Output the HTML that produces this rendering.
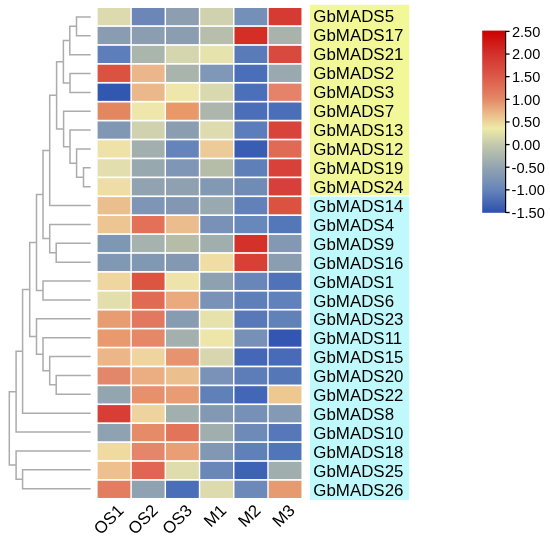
<!DOCTYPE html><html><head><meta charset="utf-8"><style>html,body{margin:0;padding:0;background:#fff;width:550px;height:539px;overflow:hidden;}svg{display:block;}text{font-family:"Liberation Sans",sans-serif;}</style></head><body>
<svg width="550" height="539" viewBox="0 0 550 539">
<rect width="550" height="539" fill="#fff"/>
<g shape-rendering="auto">
<rect x="97.60" y="8.00" width="32.77" height="17.21" fill="#DCDAAE"/>
<rect x="131.82" y="8.00" width="32.77" height="17.21" fill="#6C87B7"/>
<rect x="166.04" y="8.00" width="32.77" height="17.21" fill="#8C9EB0"/>
<rect x="200.26" y="8.00" width="32.77" height="17.21" fill="#CFD1AF"/>
<rect x="234.48" y="8.00" width="32.77" height="17.21" fill="#7490B8"/>
<rect x="268.70" y="8.00" width="32.77" height="17.21" fill="#D53B33"/>
<rect x="97.60" y="26.91" width="32.77" height="17.21" fill="#899CB1"/>
<rect x="131.82" y="26.91" width="32.77" height="17.21" fill="#8A9DB1"/>
<rect x="166.04" y="26.91" width="32.77" height="17.21" fill="#8B9DB0"/>
<rect x="200.26" y="26.91" width="32.77" height="17.21" fill="#B7BEAC"/>
<rect x="234.48" y="26.91" width="32.77" height="17.21" fill="#D42E26"/>
<rect x="268.70" y="26.91" width="32.77" height="17.21" fill="#A9B3AC"/>
<rect x="97.60" y="45.82" width="32.77" height="17.21" fill="#5D7DBB"/>
<rect x="131.82" y="45.82" width="32.77" height="17.21" fill="#AAB5AC"/>
<rect x="166.04" y="45.82" width="32.77" height="17.21" fill="#D6D6AE"/>
<rect x="200.26" y="45.82" width="32.77" height="17.21" fill="#E6E3AE"/>
<rect x="234.48" y="45.82" width="32.77" height="17.21" fill="#5A7AB8"/>
<rect x="268.70" y="45.82" width="32.77" height="17.21" fill="#D94A3E"/>
<rect x="97.60" y="64.73" width="32.77" height="17.21" fill="#DA5340"/>
<rect x="131.82" y="64.73" width="32.77" height="17.21" fill="#EAB68A"/>
<rect x="166.04" y="64.73" width="32.77" height="17.21" fill="#A9B5AC"/>
<rect x="200.26" y="64.73" width="32.77" height="17.21" fill="#7F98B8"/>
<rect x="234.48" y="64.73" width="32.77" height="17.21" fill="#4A6EB8"/>
<rect x="268.70" y="64.73" width="32.77" height="17.21" fill="#9AA8AF"/>
<rect x="97.60" y="83.64" width="32.77" height="17.21" fill="#3157B1"/>
<rect x="131.82" y="83.64" width="32.77" height="17.21" fill="#EAB88A"/>
<rect x="166.04" y="83.64" width="32.77" height="17.21" fill="#EEE6AA"/>
<rect x="200.26" y="83.64" width="32.77" height="17.21" fill="#D9D9AF"/>
<rect x="234.48" y="83.64" width="32.77" height="17.21" fill="#4B6FB8"/>
<rect x="268.70" y="83.64" width="32.77" height="17.21" fill="#E4826A"/>
<rect x="97.60" y="102.55" width="32.77" height="17.21" fill="#E2875F"/>
<rect x="131.82" y="102.55" width="32.77" height="17.21" fill="#EEE6AA"/>
<rect x="166.04" y="102.55" width="32.77" height="17.21" fill="#E99868"/>
<rect x="200.26" y="102.55" width="32.77" height="17.21" fill="#ACB6AC"/>
<rect x="234.48" y="102.55" width="32.77" height="17.21" fill="#4A6EB8"/>
<rect x="268.70" y="102.55" width="32.77" height="17.21" fill="#4A6EB8"/>
<rect x="97.60" y="121.46" width="32.77" height="17.21" fill="#8198B4"/>
<rect x="131.82" y="121.46" width="32.77" height="17.21" fill="#CFD1AF"/>
<rect x="166.04" y="121.46" width="32.77" height="17.21" fill="#8A9DB1"/>
<rect x="200.26" y="121.46" width="32.77" height="17.21" fill="#DEDCAE"/>
<rect x="234.48" y="121.46" width="32.77" height="17.21" fill="#5C7DBB"/>
<rect x="268.70" y="121.46" width="32.77" height="17.21" fill="#D8443A"/>
<rect x="97.60" y="140.37" width="32.77" height="17.21" fill="#EFE2A8"/>
<rect x="131.82" y="140.37" width="32.77" height="17.21" fill="#A2AFAE"/>
<rect x="166.04" y="140.37" width="32.77" height="17.21" fill="#6584BB"/>
<rect x="200.26" y="140.37" width="32.77" height="17.21" fill="#EDCB98"/>
<rect x="234.48" y="140.37" width="32.77" height="17.21" fill="#3A5DB4"/>
<rect x="268.70" y="140.37" width="32.77" height="17.21" fill="#E06A55"/>
<rect x="97.60" y="159.28" width="32.77" height="17.21" fill="#E3DEAD"/>
<rect x="131.82" y="159.28" width="32.77" height="17.21" fill="#97A8AF"/>
<rect x="166.04" y="159.28" width="32.77" height="17.21" fill="#7F96B6"/>
<rect x="200.26" y="159.28" width="32.77" height="17.21" fill="#B5BDA9"/>
<rect x="234.48" y="159.28" width="32.77" height="17.21" fill="#5F7FB8"/>
<rect x="268.70" y="159.28" width="32.77" height="17.21" fill="#D8403A"/>
<rect x="97.60" y="178.19" width="32.77" height="17.21" fill="#EEDDA5"/>
<rect x="131.82" y="178.19" width="32.77" height="17.21" fill="#91A3B0"/>
<rect x="166.04" y="178.19" width="32.77" height="17.21" fill="#8FA1B0"/>
<rect x="200.26" y="178.19" width="32.77" height="17.21" fill="#8299B4"/>
<rect x="234.48" y="178.19" width="32.77" height="17.21" fill="#6F8BB6"/>
<rect x="268.70" y="178.19" width="32.77" height="17.21" fill="#D7403A"/>
<rect x="97.60" y="197.10" width="32.77" height="17.21" fill="#EBBE8E"/>
<rect x="131.82" y="197.10" width="32.77" height="17.21" fill="#7E95B5"/>
<rect x="166.04" y="197.10" width="32.77" height="17.21" fill="#8397B3"/>
<rect x="200.26" y="197.10" width="32.77" height="17.21" fill="#99A9B0"/>
<rect x="234.48" y="197.10" width="32.77" height="17.21" fill="#6281B8"/>
<rect x="268.70" y="197.10" width="32.77" height="17.21" fill="#DC5240"/>
<rect x="97.60" y="216.01" width="32.77" height="17.21" fill="#EDC593"/>
<rect x="131.82" y="216.01" width="32.77" height="17.21" fill="#E27158"/>
<rect x="166.04" y="216.01" width="32.77" height="17.21" fill="#EBBC8D"/>
<rect x="200.26" y="216.01" width="32.77" height="17.21" fill="#7991B7"/>
<rect x="234.48" y="216.01" width="32.77" height="17.21" fill="#6887BA"/>
<rect x="268.70" y="216.01" width="32.77" height="17.21" fill="#5377B9"/>
<rect x="97.60" y="234.92" width="32.77" height="17.21" fill="#7E97B3"/>
<rect x="131.82" y="234.92" width="32.77" height="17.21" fill="#A5B2AD"/>
<rect x="166.04" y="234.92" width="32.77" height="17.21" fill="#B5BDA9"/>
<rect x="200.26" y="234.92" width="32.77" height="17.21" fill="#A1AEAE"/>
<rect x="234.48" y="234.92" width="32.77" height="17.21" fill="#D5302A"/>
<rect x="268.70" y="234.92" width="32.77" height="17.21" fill="#8399B3"/>
<rect x="97.60" y="253.83" width="32.77" height="17.21" fill="#8098B3"/>
<rect x="131.82" y="253.83" width="32.77" height="17.21" fill="#8098B3"/>
<rect x="166.04" y="253.83" width="32.77" height="17.21" fill="#8398B3"/>
<rect x="200.26" y="253.83" width="32.77" height="17.21" fill="#EFDDA4"/>
<rect x="234.48" y="253.83" width="32.77" height="17.21" fill="#D84036"/>
<rect x="268.70" y="253.83" width="32.77" height="17.21" fill="#8B9DB1"/>
<rect x="97.60" y="272.74" width="32.77" height="17.21" fill="#EFD69E"/>
<rect x="131.82" y="272.74" width="32.77" height="17.21" fill="#DC5540"/>
<rect x="166.04" y="272.74" width="32.77" height="17.21" fill="#EEE4AA"/>
<rect x="200.26" y="272.74" width="32.77" height="17.21" fill="#8EA1B0"/>
<rect x="234.48" y="272.74" width="32.77" height="17.21" fill="#6886BA"/>
<rect x="268.70" y="272.74" width="32.77" height="17.21" fill="#5072B8"/>
<rect x="97.60" y="291.65" width="32.77" height="17.21" fill="#E3DFAD"/>
<rect x="131.82" y="291.65" width="32.77" height="17.21" fill="#E06A54"/>
<rect x="166.04" y="291.65" width="32.77" height="17.21" fill="#EAAA7E"/>
<rect x="200.26" y="291.65" width="32.77" height="17.21" fill="#7A92B7"/>
<rect x="234.48" y="291.65" width="32.77" height="17.21" fill="#5F7FB9"/>
<rect x="268.70" y="291.65" width="32.77" height="17.21" fill="#6081B9"/>
<rect x="97.60" y="310.56" width="32.77" height="17.21" fill="#E89C72"/>
<rect x="131.82" y="310.56" width="32.77" height="17.21" fill="#E27860"/>
<rect x="166.04" y="310.56" width="32.77" height="17.21" fill="#889CB1"/>
<rect x="200.26" y="310.56" width="32.77" height="17.21" fill="#E6E2AC"/>
<rect x="234.48" y="310.56" width="32.77" height="17.21" fill="#5878B7"/>
<rect x="268.70" y="310.56" width="32.77" height="17.21" fill="#6181B9"/>
<rect x="97.60" y="329.47" width="32.77" height="17.21" fill="#E8996E"/>
<rect x="131.82" y="329.47" width="32.77" height="17.21" fill="#E58868"/>
<rect x="166.04" y="329.47" width="32.77" height="17.21" fill="#A4B0AD"/>
<rect x="200.26" y="329.47" width="32.77" height="17.21" fill="#EEE5A8"/>
<rect x="234.48" y="329.47" width="32.77" height="17.21" fill="#7690B7"/>
<rect x="268.70" y="329.47" width="32.77" height="17.21" fill="#3256B2"/>
<rect x="97.60" y="348.38" width="32.77" height="17.21" fill="#EBB688"/>
<rect x="131.82" y="348.38" width="32.77" height="17.21" fill="#EED5A0"/>
<rect x="166.04" y="348.38" width="32.77" height="17.21" fill="#E69470"/>
<rect x="200.26" y="348.38" width="32.77" height="17.21" fill="#D7D6AE"/>
<rect x="234.48" y="348.38" width="32.77" height="17.21" fill="#4468B5"/>
<rect x="268.70" y="348.38" width="32.77" height="17.21" fill="#476BB6"/>
<rect x="97.60" y="367.29" width="32.77" height="17.21" fill="#E3876A"/>
<rect x="131.82" y="367.29" width="32.77" height="17.21" fill="#EBAE82"/>
<rect x="166.04" y="367.29" width="32.77" height="17.21" fill="#ECC08E"/>
<rect x="200.26" y="367.29" width="32.77" height="17.21" fill="#7A92B7"/>
<rect x="234.48" y="367.29" width="32.77" height="17.21" fill="#5D7DB8"/>
<rect x="268.70" y="367.29" width="32.77" height="17.21" fill="#5577B8"/>
<rect x="97.60" y="386.20" width="32.77" height="17.21" fill="#93A5AF"/>
<rect x="131.82" y="386.20" width="32.77" height="17.21" fill="#E6906C"/>
<rect x="166.04" y="386.20" width="32.77" height="17.21" fill="#E99C72"/>
<rect x="200.26" y="386.20" width="32.77" height="17.21" fill="#6080BA"/>
<rect x="234.48" y="386.20" width="32.77" height="17.21" fill="#4167B6"/>
<rect x="268.70" y="386.20" width="32.77" height="17.21" fill="#EDC890"/>
<rect x="97.60" y="405.11" width="32.77" height="17.21" fill="#D83E36"/>
<rect x="131.82" y="405.11" width="32.77" height="17.21" fill="#EED39E"/>
<rect x="166.04" y="405.11" width="32.77" height="17.21" fill="#A1AFAE"/>
<rect x="200.26" y="405.11" width="32.77" height="17.21" fill="#8398B3"/>
<rect x="234.48" y="405.11" width="32.77" height="17.21" fill="#7790B6"/>
<rect x="268.70" y="405.11" width="32.77" height="17.21" fill="#8499B3"/>
<rect x="97.60" y="424.02" width="32.77" height="17.21" fill="#8FA2B2"/>
<rect x="131.82" y="424.02" width="32.77" height="17.21" fill="#E58B68"/>
<rect x="166.04" y="424.02" width="32.77" height="17.21" fill="#E27459"/>
<rect x="200.26" y="424.02" width="32.77" height="17.21" fill="#A1AEAE"/>
<rect x="234.48" y="424.02" width="32.77" height="17.21" fill="#6E8AB6"/>
<rect x="268.70" y="424.02" width="32.77" height="17.21" fill="#5677B9"/>
<rect x="97.60" y="442.93" width="32.77" height="17.21" fill="#EFDAA0"/>
<rect x="131.82" y="442.93" width="32.77" height="17.21" fill="#E5866A"/>
<rect x="166.04" y="442.93" width="32.77" height="17.21" fill="#E99E74"/>
<rect x="200.26" y="442.93" width="32.77" height="17.21" fill="#8297B4"/>
<rect x="234.48" y="442.93" width="32.77" height="17.21" fill="#6080B9"/>
<rect x="268.70" y="442.93" width="32.77" height="17.21" fill="#5274B8"/>
<rect x="97.60" y="461.84" width="32.77" height="17.21" fill="#EDC08E"/>
<rect x="131.82" y="461.84" width="32.77" height="17.21" fill="#E06552"/>
<rect x="166.04" y="461.84" width="32.77" height="17.21" fill="#DFDDAE"/>
<rect x="200.26" y="461.84" width="32.77" height="17.21" fill="#6A87B9"/>
<rect x="234.48" y="461.84" width="32.77" height="17.21" fill="#3E62B4"/>
<rect x="268.70" y="461.84" width="32.77" height="17.21" fill="#A1AEAE"/>
<rect x="97.60" y="480.75" width="32.77" height="17.21" fill="#E37D60"/>
<rect x="131.82" y="480.75" width="32.77" height="17.21" fill="#8FA2B2"/>
<rect x="166.04" y="480.75" width="32.77" height="17.21" fill="#4A6EB8"/>
<rect x="200.26" y="480.75" width="32.77" height="17.21" fill="#DDDBAE"/>
<rect x="234.48" y="480.75" width="32.77" height="17.21" fill="#6C89B9"/>
<rect x="268.70" y="480.75" width="32.77" height="17.21" fill="#E69A70"/>
</g>
<rect x="309.9" y="4.8" width="99.30" height="190.40" fill="#F2F898"/>
<rect x="309.9" y="196.6" width="99.30" height="303.30" fill="#C0F9FC"/>
<text x="313.3" y="22.40" font-size="16.9" fill="#000">GbMADS5</text>
<text x="313.3" y="41.34" font-size="16.9" fill="#000">GbMADS17</text>
<text x="313.3" y="60.28" font-size="16.9" fill="#000">GbMADS21</text>
<text x="313.3" y="79.22" font-size="16.9" fill="#000">GbMADS2</text>
<text x="313.3" y="98.16" font-size="16.9" fill="#000">GbMADS3</text>
<text x="313.3" y="117.10" font-size="16.9" fill="#000">GbMADS7</text>
<text x="313.3" y="136.04" font-size="16.9" fill="#000">GbMADS13</text>
<text x="313.3" y="154.98" font-size="16.9" fill="#000">GbMADS12</text>
<text x="313.3" y="173.92" font-size="16.9" fill="#000">GbMADS19</text>
<text x="313.3" y="192.86" font-size="16.9" fill="#000">GbMADS24</text>
<text x="313.3" y="211.80" font-size="16.9" fill="#000">GbMADS14</text>
<text x="313.3" y="230.74" font-size="16.9" fill="#000">GbMADS4</text>
<text x="313.3" y="249.68" font-size="16.9" fill="#000">GbMADS9</text>
<text x="313.3" y="268.62" font-size="16.9" fill="#000">GbMADS16</text>
<text x="313.3" y="287.56" font-size="16.9" fill="#000">GbMADS1</text>
<text x="313.3" y="306.50" font-size="16.9" fill="#000">GbMADS6</text>
<text x="313.3" y="325.44" font-size="16.9" fill="#000">GbMADS23</text>
<text x="313.3" y="344.38" font-size="16.9" fill="#000">GbMADS11</text>
<text x="313.3" y="363.32" font-size="16.9" fill="#000">GbMADS15</text>
<text x="313.3" y="382.26" font-size="16.9" fill="#000">GbMADS20</text>
<text x="313.3" y="401.20" font-size="16.9" fill="#000">GbMADS22</text>
<text x="313.3" y="420.14" font-size="16.9" fill="#000">GbMADS8</text>
<text x="313.3" y="439.08" font-size="16.9" fill="#000">GbMADS10</text>
<text x="313.3" y="458.02" font-size="16.9" fill="#000">GbMADS18</text>
<text x="313.3" y="476.96" font-size="16.9" fill="#000">GbMADS25</text>
<text x="313.3" y="495.90" font-size="16.9" fill="#000">GbMADS26</text>
<text x="124.70" y="511.50" font-size="16.9" fill="#000" text-anchor="end" transform="rotate(-45 124.70 511.50)">OS1</text>
<text x="158.92" y="511.50" font-size="16.9" fill="#000" text-anchor="end" transform="rotate(-45 158.92 511.50)">OS2</text>
<text x="193.14" y="511.50" font-size="16.9" fill="#000" text-anchor="end" transform="rotate(-45 193.14 511.50)">OS3</text>
<text x="227.36" y="511.50" font-size="16.9" fill="#000" text-anchor="end" transform="rotate(-45 227.36 511.50)">M1</text>
<text x="261.58" y="511.50" font-size="16.9" fill="#000" text-anchor="end" transform="rotate(-45 261.58 511.50)">M2</text>
<text x="295.80" y="511.50" font-size="16.9" fill="#000" text-anchor="end" transform="rotate(-45 295.80 511.50)">M3</text>
<path d="M90.70,16.90H76.50V35.77H90.70M76.50,26.33H69.80V54.64H90.70M90.70,73.51H70.00V92.38H90.70M69.80,40.49H63.40V82.94H70.00M90.70,167.86H83.50V186.73H90.70M90.70,148.99H76.60V177.30H83.50M90.70,130.12H70.00V163.14H76.60M90.70,111.25H63.60V146.63H70.00M63.40,61.72H56.60V128.94H63.60M56.60,95.33H49.70V205.60H90.70M90.70,243.34H56.20V262.21H90.70M90.70,224.47H49.70V252.77H56.20M49.70,150.46H43.00V238.62H49.70M90.70,281.08H43.00V299.95H90.70M43.00,194.54H36.50V290.51H43.00M90.70,375.43H56.20V394.30H90.70M90.70,356.56H49.70V384.87H56.20M90.70,337.69H43.00V370.71H49.70M90.70,318.82H36.50V354.20H43.00M36.50,242.53H29.70V336.51H36.50M29.70,289.52H22.60V413.17H90.70M22.60,351.34H16.10V432.04H90.70M90.70,469.78H22.60V488.65H90.70M90.70,450.91H16.10V479.21H22.60M16.10,391.69H9.30V465.06H16.10" fill="none" stroke="#acacac" stroke-width="1.5"/>
<defs><linearGradient id="lg" x1="0" y1="0" x2="0" y2="1">
<stop offset="0.0000" stop-color="#CC0000"/>
<stop offset="0.1250" stop-color="#D2302C"/>
<stop offset="0.2500" stop-color="#DC5848"/>
<stop offset="0.3750" stop-color="#E38868"/>
<stop offset="0.4500" stop-color="#EBB686"/>
<stop offset="0.5375" stop-color="#EEEAA8"/>
<stop offset="0.6250" stop-color="#C4C9AC"/>
<stop offset="0.7500" stop-color="#93A4B0"/>
<stop offset="0.8750" stop-color="#6684BA"/>
<stop offset="1.0000" stop-color="#2C50AC"/>
</linearGradient></defs>
<rect x="482.2" y="30.6" width="23.00" height="182.20" fill="url(#lg)"/>
<line x1="505.6" y1="30.80" x2="505.6" y2="213.10" stroke="#000" stroke-width="1.2"/>
<line x1="505.6" y1="31.40" x2="509.6" y2="31.40" stroke="#000" stroke-width="1.3"/>
<text x="511.9" y="36.80" font-size="14.6" fill="#000">2.50</text>
<line x1="505.6" y1="54.04" x2="509.6" y2="54.04" stroke="#000" stroke-width="1.3"/>
<text x="511.9" y="59.44" font-size="14.6" fill="#000">2.00</text>
<line x1="505.6" y1="76.67" x2="509.6" y2="76.67" stroke="#000" stroke-width="1.3"/>
<text x="511.9" y="82.08" font-size="14.6" fill="#000">1.50</text>
<line x1="505.6" y1="99.31" x2="509.6" y2="99.31" stroke="#000" stroke-width="1.3"/>
<text x="511.9" y="104.71" font-size="14.6" fill="#000">1.00</text>
<line x1="505.6" y1="121.95" x2="509.6" y2="121.95" stroke="#000" stroke-width="1.3"/>
<text x="511.9" y="127.35" font-size="14.6" fill="#000">0.50</text>
<line x1="505.6" y1="144.59" x2="509.6" y2="144.59" stroke="#000" stroke-width="1.3"/>
<text x="511.9" y="149.99" font-size="14.6" fill="#000">0.00</text>
<line x1="505.6" y1="167.22" x2="509.6" y2="167.22" stroke="#000" stroke-width="1.3"/>
<text x="511.6" y="172.62" font-size="14.6" fill="#000">-0.50</text>
<line x1="505.6" y1="189.86" x2="509.6" y2="189.86" stroke="#000" stroke-width="1.3"/>
<text x="511.6" y="195.26" font-size="14.6" fill="#000">-1.00</text>
<line x1="505.6" y1="212.50" x2="509.6" y2="212.50" stroke="#000" stroke-width="1.3"/>
<text x="511.6" y="217.90" font-size="14.6" fill="#000">-1.50</text>
</svg></body></html>
